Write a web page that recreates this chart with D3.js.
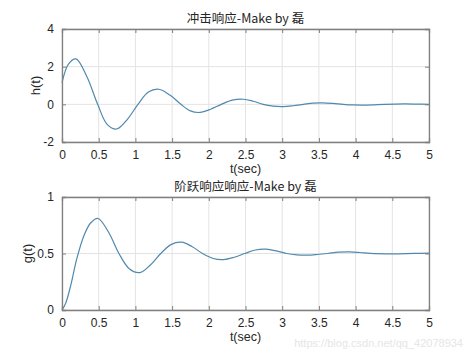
<!DOCTYPE html>
<html><head><meta charset="utf-8">
<script src="https://cdn.jsdelivr.net/npm/d3@7"></script>
<style>
body{margin:0;background:#fff;}
svg{display:block;font-family:"Liberation Sans",Arial,sans-serif;}
</style></head>
<body><svg id="c" width="474" height="355"></svg>
<script>
// impulse response h(t): key points
const impulseT = [0,0.09,0.19,0.338,0.486,0.615,0.745,0.888,1.035,1.177,1.32,1.47,1.62,1.75,1.88,2.025,2.17,2.32,2.47,2.605,2.74,2.875,3.01,3.15,3.29,3.42,3.55,3.69,3.83,3.965,4.1,4.25,4.4,4.54,4.68,4.83,5.0];
const impulseH = [1.15,2.15,2.41,1.48,0,-1.06,-1.31,-0.81,0,0.65,0.80,0.49,0,-0.35,-0.43,-0.26,0,0.22,0.27,0.166,0,-0.097,-0.12,-0.074,0,0.065,0.08,0.05,0,-0.032,-0.04,-0.025,0,0.016,0.02,0.012,0];
// step response g(t): key points
const stepT = [0,0.05,0.12,0.2,0.3,0.39,0.49,0.633,0.776,0.92,1.063,1.2,1.345,1.49,1.63,1.77,1.915,2.06,2.2,2.345,2.49,2.635,2.78,2.92,3.06,3.2,3.34,3.48,3.62,3.77,3.92,4.06,4.2,4.5,4.8,5.0];
const stepG = [0,0.06,0.22,0.45,0.66,0.77,0.81,0.69,0.5,0.363,0.331,0.396,0.5,0.581,0.60,0.5615,0.5,0.456,0.446,0.467,0.5,0.531,0.538,0.523,0.5,0.488,0.485,0.491,0.5,0.512,0.515,0.509,0.501,0.497,0.501,0.503];
const xTicks = [0,0.5,1,1.5,2,2.5,3,3.5,4,4.5,5];
const yTicksTop = [-2,0,2,4];
const yTicksBottom = [0,0.5,1];

const svg = d3.select("#c");
const lineColor = "#5089ad";
const axisColor = "#808080";
const gridColor = "#e3e3e3";
const textColor = "#262626";

function panel(cfg){
  const x = d3.scaleLinear().domain([0,5]).range([62,429]);
  const y = d3.scaleLinear().domain(cfg.ydom).range([cfg.bottom, cfg.top]);
  const g = svg.append("g");
  g.selectAll(".gx").data(xTicks).join("line")
    .attr("x1",d=>x(d)).attr("x2",d=>x(d)).attr("y1",cfg.top).attr("y2",cfg.bottom)
    .attr("stroke",gridColor).attr("stroke-width",1);
  g.selectAll(".gy").data(cfg.yticks).join("line")
    .attr("y1",d=>y(d)).attr("y2",d=>y(d)).attr("x1",62).attr("x2",429)
    .attr("stroke",gridColor).attr("stroke-width",1);
  const pts = cfg.t.map((t,i)=>[t,cfg.values[i]]);
  const line = d3.line().x(d=>x(d[0])).y(d=>y(d[1])).curve(d3.curveCatmullRom.alpha(0.5));
  g.append("path").datum(pts).attr("d",line)
    .attr("fill","none").attr("stroke",lineColor).attr("stroke-width",1.2);
  const xb = d3.axisBottom(x).tickValues(xTicks).tickSize(-4).tickPadding(8).tickFormat(d=>String(d));
  const xt = d3.axisTop(x).tickValues(xTicks).tickSize(-4).tickFormat("");
  const yl = d3.axisLeft(y).tickValues(cfg.yticks).tickSize(-4).tickPadding(8).tickFormat(d=>String(d));
  const yr = d3.axisRight(y).tickValues(cfg.yticks).tickSize(-4).tickFormat("");
  const style = s => { s.select(".domain").attr("stroke",axisColor).attr("stroke-width",1.3);
    s.selectAll(".tick line").attr("stroke",axisColor);
    s.selectAll(".tick text").attr("fill",textColor).attr("font-size",12).attr("font-family","Liberation Sans, Arial, sans-serif"); };
  g.append("g").attr("transform",`translate(0,${cfg.bottom})`).call(xb).call(style);
  g.append("g").attr("transform",`translate(0,${cfg.top})`).call(xt).call(style);
  g.append("g").attr("transform",`translate(62,0)`).call(yl).call(style);
  g.append("g").attr("transform",`translate(429,0)`).call(yr).call(style);
  g.append("text").attr("x",245.5).attr("y",cfg.top-6).attr("text-anchor","middle")
    .attr("fill",textColor).attr("font-size",12.5)
    .attr("font-family","'Noto Sans CJK SC','Liberation Sans',sans-serif").text(cfg.title);
  g.append("text").attr("x",245.5).attr("y",cfg.bottom+31).attr("text-anchor","middle")
    .attr("fill",textColor).attr("font-size",12.5).text("t(sec)");
  g.append("text").attr("transform",`translate(${cfg.ylx},${(cfg.top+cfg.bottom)/2}) rotate(-90)`)
    .attr("text-anchor","middle").attr("fill",textColor).attr("font-size",13).text(cfg.ylabel);
}

panel({ydom:[-2,4], top:29, bottom:142, yticks:yTicksTop, t:impulseT, values:impulseH,
  title:"冲击响应-Make by 磊", ylabel:"h(t)", ylx:40});
panel({ydom:[0,1], top:197, bottom:310, yticks:yTicksBottom, t:stepT, values:stepG,
  title:"阶跃响应响应-Make by 磊", ylabel:"g(t)", ylx:32});

svg.append("text").attr("x",463).attr("y",347).attr("text-anchor","end")
  .attr("fill","#e6e6e6").attr("font-size",11).text("https://blog.csdn.net/qq_42078934");
</script></body></html>
